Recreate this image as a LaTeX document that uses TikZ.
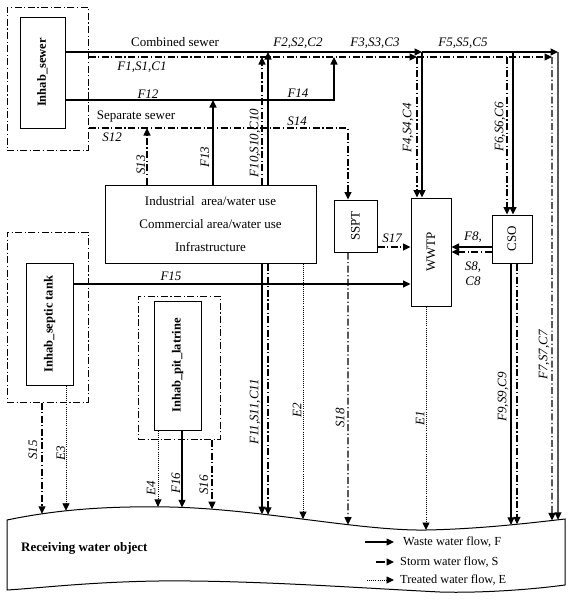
\documentclass[tikz,border=0pt]{standalone}
\usepackage{fontspec}
\setmainfont{Liberation Serif}
\usetikzlibrary{arrows.meta,intersections}

\begin{document}
\begin{tikzpicture}[x=1pt,y=-1pt,>={Triangle[length=7.5pt,width=7pt]},
  waste/.style={line width=1.1pt},
  storm/.style={line width=1.1pt,dash pattern=on 7pt off 2.5pt on 1.2pt off 2.5pt},
  treat/.style={line width=0.9pt,dash pattern=on 1pt off 1.1pt},
  unit/.style={draw,line width=1pt,inner sep=0pt},
  area/.style={draw,line width=1pt,inner sep=0pt,dash pattern=on 7pt off 2.5pt on 1.2pt off 2.5pt},
  txt/.style={font=\fontsize{13}{15}\selectfont,inner sep=1pt},
  lbl/.style={font=\fontsize{13}{15}\selectfont\itshape,inner sep=1pt},
  vlbl/.style={lbl,rotate=90},
  legtxt/.style={font=\fontsize{12.3}{14}\selectfont,inner sep=1pt,anchor=west},
  bname/.style={font=\fontsize{12.5}{15}\selectfont\bfseries,rotate=90},
  pname/.style={font=\fontsize{13}{15}\selectfont,rotate=90}]
  \useasboundingbox (0,0) rectangle (573,600);

  % boxes
  \node[area,minimum width=81pt,minimum height=143pt] (sewerg) at (47.5,78.5) {};
  \node[unit,minimum width=45pt,minimum height=111pt,label={[bname]center:Inhab\_sewer}] (sewer) at (42.5,72.5) {};
  \node[unit,minimum width=211pt,minimum height=78pt,align=center,font=\fontsize{13}{23}\selectfont] (industry) at (210.5,224)
    {Industrial\ \ area/water use\\Commercial area/water use\\Infrastructure};
  \node[unit,minimum width=43pt,minimum height=52pt,label={[pname]center:SSPT}] (sspt) at (355.5,226) {};
  \node[unit,minimum width=40pt,minimum height=108pt,label={[pname]center:WWTP}] (wwtp) at (431,252) {};
  \node[unit,minimum width=40pt,minimum height=48pt,label={[pname]center:CSO}] (cso) at (512,239) {};
  \node[area,minimum width=81pt,minimum height=170pt] (septicg) at (47.5,317) {};
  \node[unit,minimum width=47pt,minimum height=122pt,label={[bname]center:Inhab\_septic tank}] (septic) at (49.5,324) {};
  \node[area,minimum width=82pt,minimum height=143pt] (latrineg) at (179,367.5) {};
  \node[unit,minimum width=47pt,minimum height=129pt,label={[bname]center:Inhab\_pit\_latrine}] (latrine) at (177.5,365.5) {};

  % sewer junctions
  \coordinate (j4f) at (422,52);  \coordinate (j4s) at (417,57);
  \coordinate (j6f) at (513,52);  \coordinate (j6s) at (507,57);
  \coordinate (j7f) at (558,52);  \coordinate (j7s) at (552,57);
  \coordinate (j10f) at (268,52); \coordinate (j10s) at (262,57);
  \coordinate (j12) at (334,100); \coordinate (j14) at (334,57);
  \coordinate (j13) at (213,100); \coordinate (js13) at (147,128);
  \coordinate (jsep) at (348,128);
  \coordinate (f8) at (0,247);    \coordinate (s8) at (0,252);
  \coordinate (f15) at (0,284);

  % receiving water
  \draw[line width=1pt,name path=water] (7,520) .. controls (60,509) and (110,506) .. (170,507)
    .. controls (260,509) and (360,531) .. (426,530) .. controls (480,529) and (530,523) .. (565,519)
    -- (565,585) .. controls (520,591) and (470,593) .. (440,592) .. controls (360,588) and (250,580) .. (158,581)
    .. controls (90,582) and (40,588) .. (7,590) -- cycle;
  \node[txt,font=\fontsize{13}{15}\selectfont\bfseries,anchor=west] (recv) at (20,548) {Receiving water object};
  \foreach \n/\x in {wS15/42,wE3/66,wE4/158,wF16/182,wS16/212,wF11f/262,wF11s/268,wE2/303,
                     wS18/348,wE1/426,wF9f/511,wF9s/517,wF7s/552,wF7f/558}{
    \path[name path=v] (\x,450) -- (\x,600);
    \path[name intersections={of=v and water,sort by=v,by=\n}];
  }

  % combined sewer
  \draw[waste,->] (sewer.east |- j4f) -- (j4f);
  \draw[waste,->] (j4f) -- (j7f);
  \draw[storm,->] (sewerg.east |- j4s) -- (j4s);
  \draw[storm,->] (j4s) -- (j7s);
  \draw[waste,->] (j4f) -- (j4f |- wwtp.north); %F4
  \draw[storm,->] (j4s) -- (j4s |- wwtp.north);
  \draw[waste,->] (j6f) -- (j6f |- cso.north); %F6
  \draw[storm,->] (j6s) -- (j6s |- cso.north);
  \draw[waste,->] (j7f) -- (wF7f); %F7
  \draw[storm,->] (j7s) -- (wF7s);

  % separate sewer
  \draw[waste,->] (sewer.east |- j12) -- (j12) -- (j14); %F12,F14
  \draw[storm,->] (sewerg.east |- jsep) -- (jsep) -- (jsep |- sspt.north); %S12,S14

  % industrial area
  \draw[waste,->] (industry.north -| j10f) -- (j10f); %F10
  \draw[storm,->] (industry.north -| j10s) -- (j10s);
  \draw[waste,->] (industry.north -| j13) -- (j13); %F13
  \draw[storm,->] (industry.north -| js13) -- (js13); %S13
  \draw[waste,->] (industry.south -| wF11f) -- (wF11f); %F11
  \draw[storm,->] (industry.south -| wF11s) -- (wF11s);
  \draw[treat,->] (industry.south -| wE2) -- (wE2); %E2

  % treatment
  \draw[storm,->] (sspt.east |- f8) -- (wwtp.west |- f8); %S17
  \draw[storm,->] (sspt.south -| jsep) -- (wS18); %S18
  \draw[waste,->] (cso.west |- f8) -- (wwtp.east |- f8); %F8
  \draw[storm,->] (cso.west |- s8) -- (wwtp.east |- s8);
  \draw[treat,->] (wwtp.south -| wE1) -- (wE1); %E1
  \draw[waste,->] (cso.south -| wF9f) -- (wF9f); %F9
  \draw[storm,->] (cso.south -| wF9s) -- (wF9s);

  % on-site systems
  \draw[waste,->] (septic.east |- f15) -- (wwtp.west |- f15); %F15
  \draw[storm,->] (septicg.south -| wS15) -- (wS15); %S15
  \draw[treat,->] (septic.south -| wE3) -- (wE3); %E3
  \draw[treat,->] (latrine.south -| wE4) -- (wE4); %E4
  \draw[waste,->] (latrine.south -| wF16) -- (wF16); %F16
  \draw[storm,->] (latrineg.south -| wS16) -- (wS16); %S16

  % labels
  \node[txt] at (175,42) {Combined sewer};
  \node[lbl] at (142,67) {F1,S1,C1};
  \node[lbl] at (148,94) {F12};
  \node[txt] at (136,117) {Separate sewer};
  \node[lbl] at (112,137) {S12};
  \node[lbl] at (298,43) {F2,S2,C2};
  \node[lbl] at (375,43) {F3,S3,C3};
  \node[lbl] at (463,43) {F5,S5,C5};
  \node[lbl] at (298,93) {F14};
  \node[lbl] at (297,121) {S14};
  \node[vlbl] at (141,165) {S13};
  \node[vlbl] at (205,157) {F13};
  \node[vlbl] at (255,143) {F10,S10,C10};
  \node[vlbl] at (408,128) {F4,S4,C4};
  \node[vlbl] at (500,127) {F6,S6,C6};
  \node[lbl] at (392,238) {S17};
  \node[lbl] at (473,237) {F8,};
  \node[lbl] at (473,267) {S8,};
  \node[lbl] at (473,281) {C8};
  \node[lbl] at (171,276) {F15};
  \node[vlbl] at (255,412) {F11,S11,C11};
  \node[vlbl] at (297,410) {E2};
  \node[vlbl] at (340,418) {S18};
  \node[vlbl] at (420,418) {E1};
  \node[vlbl] at (503,397) {F9,S9,C9};
  \node[vlbl] at (544,355) {F7,S7,C7};
  \node[vlbl] at (33,450) {S15};
  \node[vlbl] at (61,453) {E3};
  \node[vlbl] at (151,488) {E4};
  \node[vlbl] at (176,483) {F16};
  \node[vlbl] at (204,485) {S16};

  % legend
  \node[legtxt] (lgF) at (402,542) {Waste water flow, F};
  \node[legtxt] (lgS) at (399,562) {Storm water flow, S};
  \node[legtxt] (lgE) at (399,580) {Treated water flow, E};
  \draw[waste,->,shorten >=8pt] (365,542) -- (lgF.west);
  \draw[storm,->,shorten >=5pt,dash pattern=on 9pt off 2pt] (376,562) -- (lgS.west);
  \draw[treat,->,shorten >=5pt] (367,580) -- (lgE.west);
 \end{tikzpicture}
\end{document}
